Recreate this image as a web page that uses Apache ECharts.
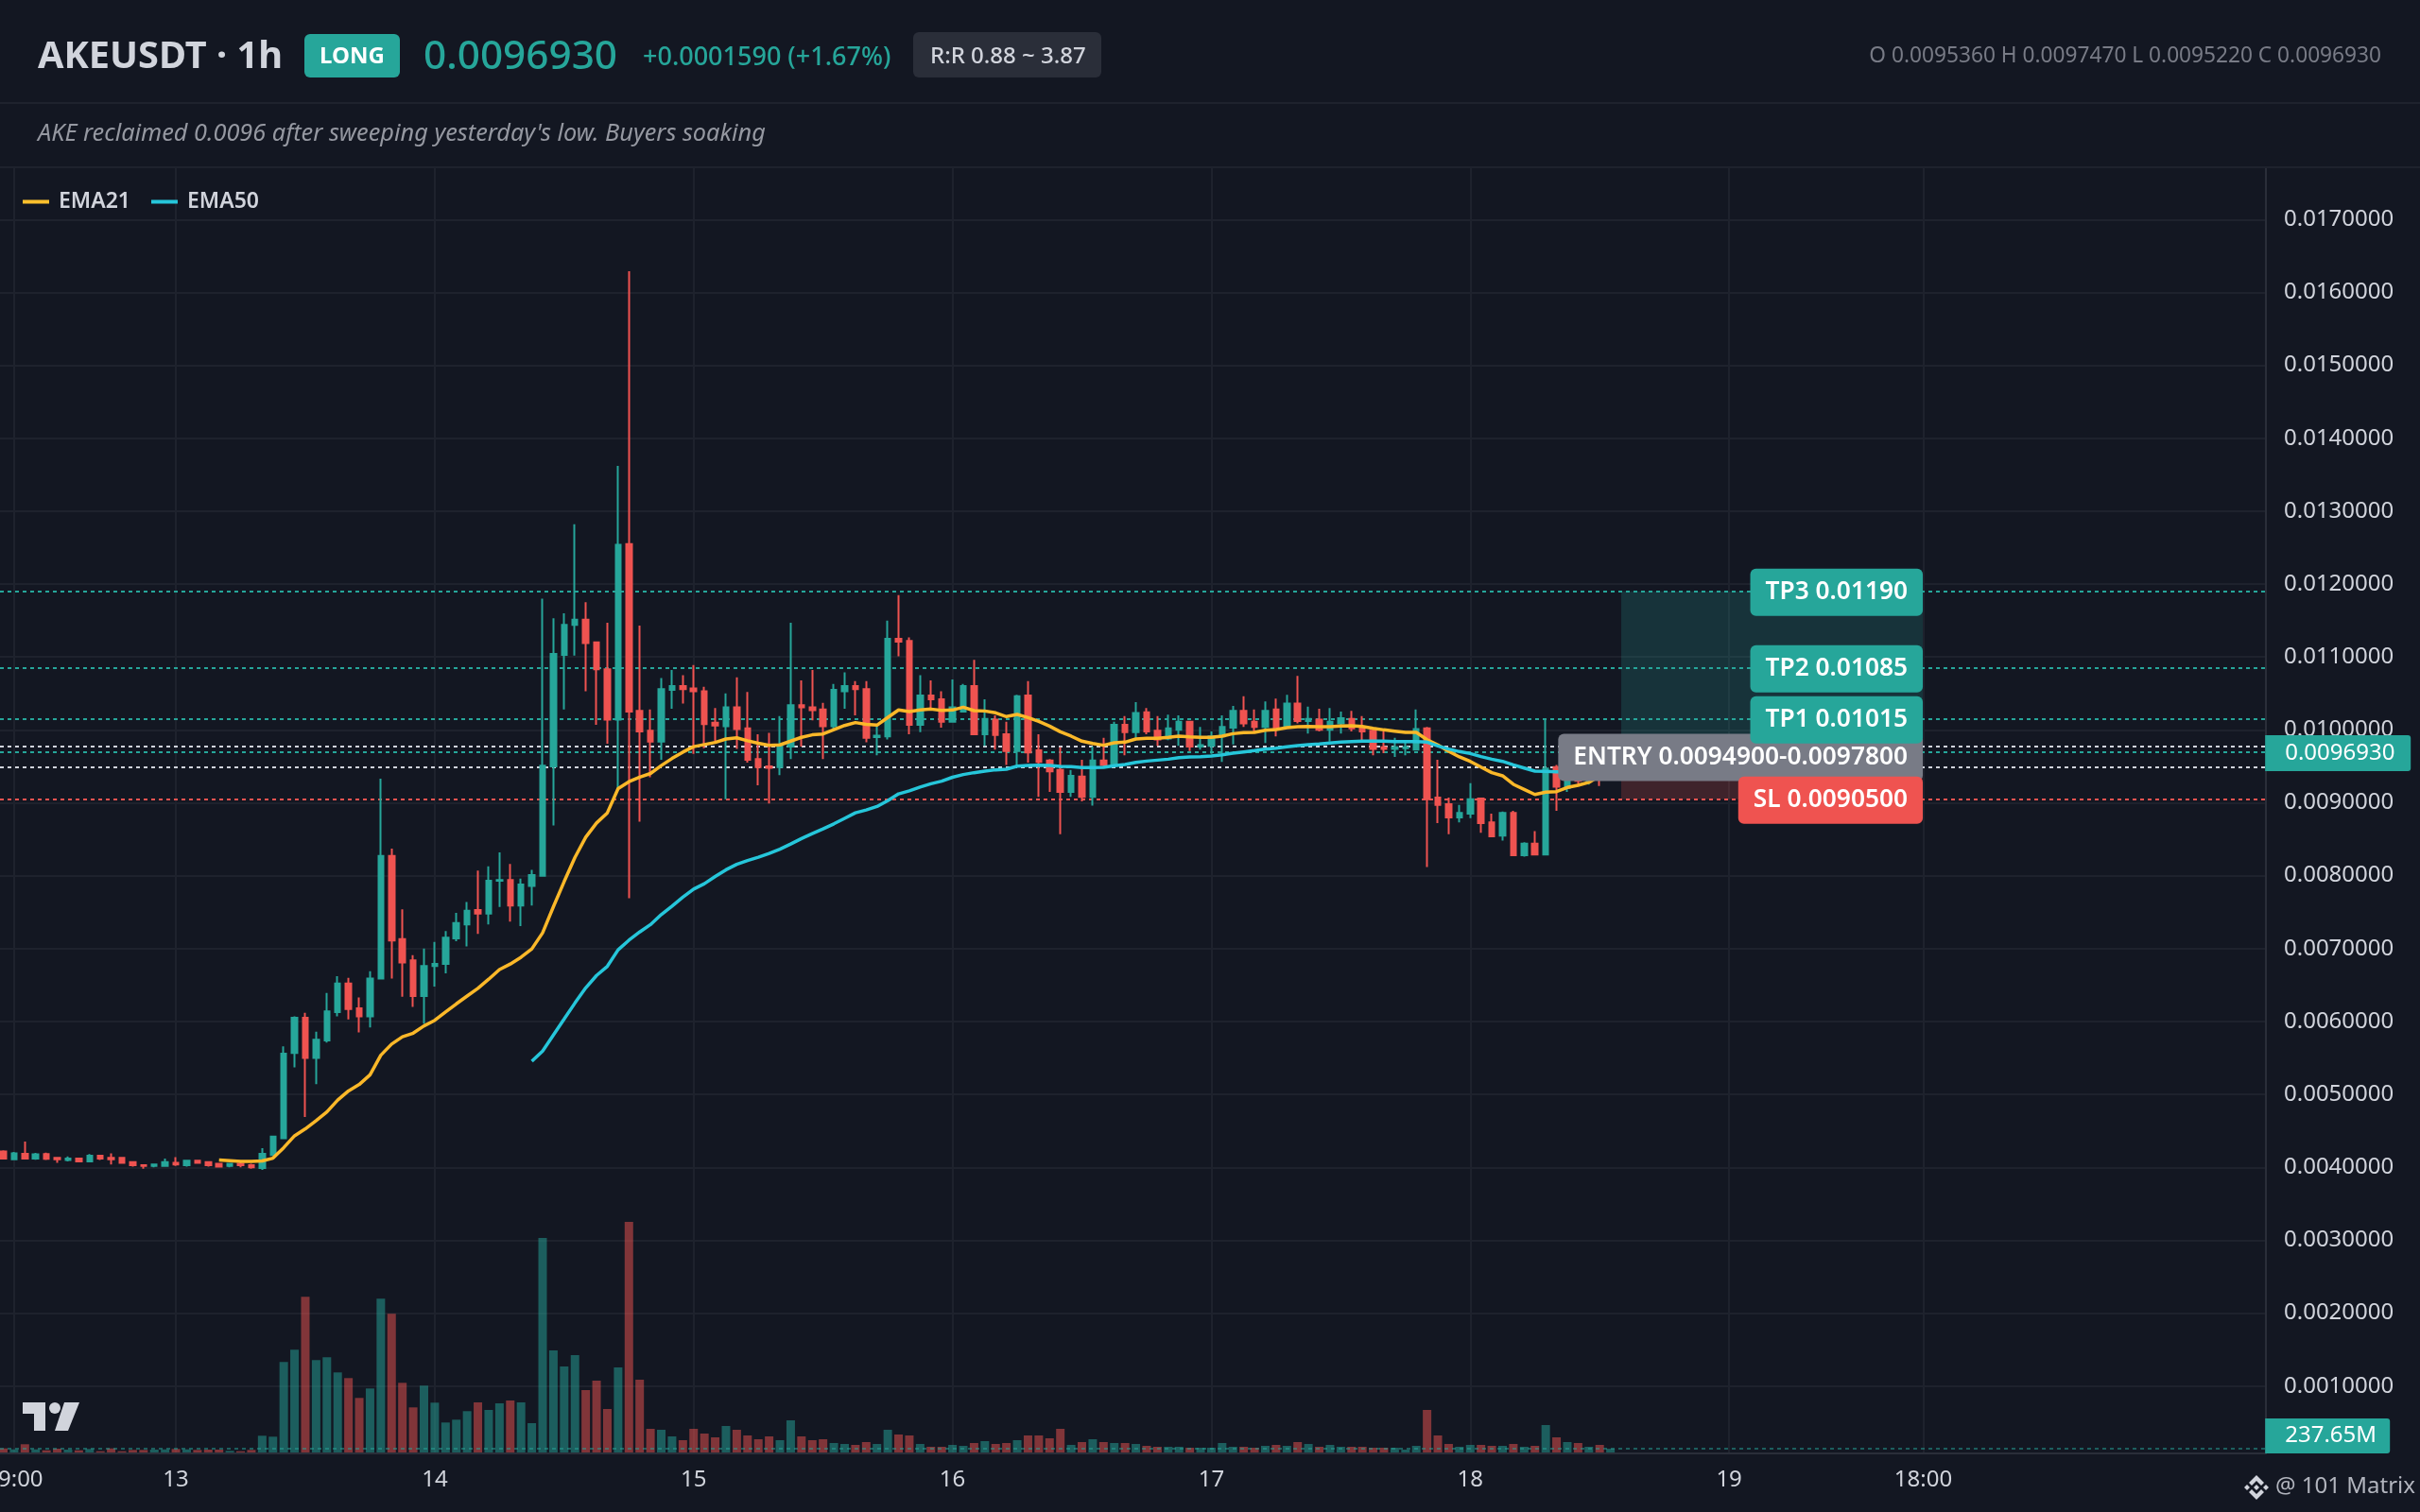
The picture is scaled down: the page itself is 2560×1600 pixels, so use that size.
<!DOCTYPE html>
<html><head><meta charset="utf-8"><title>AKEUSDT</title>
<style>html,body{margin:0;padding:0;background:#131722}#c{width:2560px;height:1600px}</style>
<script src="https://cdn.jsdelivr.net/npm/echarts@6/dist/echarts.min.js"></script></head>
<body><div id="c"></div><script>
const opens=[
.004216,.00411,.004186,.00412,.004181,.00413,.0041,.00412,.00408,.00416,
.00413,.00413,.00407,.00403,.00402,.00402,.00406,.00403,.00409,.00407,
.00405,.00402,.00405,.00403,.00399,.00417,.0044,.00557,.00605,.0055,
.00574,.00613,.00652,.00618,.00607,.00659,.00827,.00713,.00684,.00635,
.00676,.00679,.00714,.00733,.00753,.00748,.00793,.00794,.00759,.00786,
.008,.0095,.01103,.01144,.01151,.0112,.01083,.01014,.01255,.01026,
.00999,.00984,.01055,.0106,.01057,.01053,.0101,.01005,.01031,.01002,
.0096,.0095,.00949,.00977,.01034,.01031,.01028,.01005,.01053,.0106,
.01056,.0099,.00991,.01125,.01122,.01007,.01047,.01042,.01011,.01025,
.0106,.00994,.01014,.00994,.00971,.01047,.00972,.00958,.00945,.00915,
.00936,.00908,.00958,.00951,.01007,.00997,.01024,.00999,.00988,.01,
.01011,.00977,.00978,.00991,.01003,.01026,.01011,.01004,.01028,.01003,
.01036,.01012,.01014,.01,.01009,.01015,.01003,.00999,.00976,.00974,
.00975,.00973,.01002,.00907,.00898,.0088,.00885,.00906,.00873,.00855,
.00886,.00828,.00844,.00829,.00949,.0092,.00945,.0093,.00953,.009536];
const closes=[
.00412,.00419,.00412,.004177,.004117,.00411,.00412,.00408,.00416,.00412,
.00411,.00406,.00403,.00402,.00404,.00407,.00404,.00409,.00406,.00403,
.00401,.00405,.00403,.004,.004186,.00442,.00556,.00605,.0055,.00575,
.00614,.00652,.00617,.00607,.00659,.00827,.00711,.00681,.00635,.00676,
.00679,.00715,.00735,.00752,.00748,.00793,.00794,.00759,.00788,.00801,
.00951,.01104,.01144,.01151,.01119,.01083,.01014,.01254,.01025,.00998,
.00984,.01056,.0106,.01056,.01053,.01008,.01006,.01031,.01001,.00959,
.00949,.00948,.00977,.01034,.01031,.01027,.01005,.01055,.0106,.01056,
.00989,.00992,.01125,.01121,.01007,.01047,.01042,.01011,.01031,.0106,
.00994,.01015,.00993,.00971,.01046,.00969,.00956,.00943,.00915,.00937,
.00908,.00958,.00952,.01007,.00997,.01023,.00998,.00987,.01002,.01011,
.00977,.00979,.00991,.01004,.01026,.01009,.01004,.01026,.01003,.01036,
.01012,.01015,.01,.01011,.01016,.01002,.00998,.00974,.00974,.00976,
.00976,.01001,.00905,.00897,.0088,.00886,.00905,.00872,.00854,.00886,
.00828,.00844,.00829,.00947,.00922,.00945,.0093,.00945,.00938,.009693];
const lows=[
.00412,.004104,.00412,.004104,.0041,.00406,.00408,.00407,.00408,.0041,
.00404,.00405,.00401,.00398,.004,.00401,.00402,.00401,.00405,.00401,
.004,.004,.004,.00398,.003965,.00416,.00439,.00537,.00469,.00514,
.00571,.00607,.00603,.00585,.00592,.00658,.00659,.00634,.0062,.00597,
.00648,.00666,.0071,.00703,.0072,.00733,.00757,.00737,.00731,.00759,
.008,.00869,.01028,.01102,.01053,.01007,.00981,.00919,.00769,.00874,
.00935,.00959,.01029,.01036,.00967,.00975,.00983,.00905,.00974,.00955,
.00924,.00899,.00938,.0096,.00977,.01013,.0096,.01,.01029,.0102,
.00983,.00965,.00987,.01101,.00994,.00997,.0103,.01003,.0101,.01025,
.00993,.00978,.00973,.00952,.0095,.00955,.00908,.00915,.00857,.00908,
.00902,.00896,.00949,.0095,.00965,.00989,.00994,.00978,.00986,.00978,
.00971,.00973,.00967,.00956,.0098,.01004,.00998,.00982,.00991,.01003,
.01009,.00995,.00998,.00984,.00995,.00998,.00986,.00965,.00968,.00963,
.00965,.00972,.00812,.00872,.00857,.00873,.00879,.00859,.00853,.00848,
.00828,.00826,.00828,.00828,.00889,.00915,.00925,.00925,.00923,.009522];
const highs=[
.004233,.004212,.004354,.004199,.0042,.00413,.00415,.00413,.00418,.00416,
.00419,.00413,.00408,.00404,.00405,.00412,.00414,.0041,.0041,.00408,
.00406,.00406,.00408,.00405,.004264,.00442,.00566,.00607,.00612,.00586,
.00639,.00662,.0066,.00633,.00669,.00933,.00837,.00754,.00691,.007,
.00709,.00724,.00749,.00764,.00807,.00813,.00832,.00816,.00796,.00808,
.0118,.01153,.0116,.01282,.01175,.0112,.01147,.01362,.01629,.01143,
.01028,.01071,.01082,.01075,.01089,.01059,.0103,.0105,.01072,.01052,
.00994,.00996,.01019,.01147,.01068,.01082,.01037,.01063,.01079,.01067,
.01067,.01006,.0115,.01185,.01127,.01075,.01068,.01053,.01069,.01063,
.01096,.01042,.0102,.01011,.01048,.01067,.00994,.0096,.00976,.00945,
.00959,.00977,.00989,.01011,.01019,.01038,.0103,.01019,.01021,.0102,
.01012,.01004,.00998,.0102,.01033,.01046,.01028,.01039,.01043,.01048,
.01074,.01032,.01029,.0103,.01025,.01026,.01019,.01003,.00998,.00989,
.00986,.01028,.01004,.00959,.00907,.00897,.00927,.00907,.00885,.00888,
.00889,.00846,.00861,.01015,.00952,.00955,.00994,.0096,.0097,.009747];
const volumes=[
258,198,522,198,138,240,180,138,222,78,
258,78,162,162,180,198,222,198,162,180,
180,102,78,162,1062,1002,5742,6522,9882,5862,
6042,5082,4722,3462,4062,9762,8802,4422,2862,4242,
3162,1902,2082,2622,3180,2700,3120,3300,3180,1860,
13620,6480,5460,6180,3960,4560,2760,5400,14640,4620,
1500,1440,1020,780,1500,1200,960,1680,1440,1080,
840,1020,780,2040,1020,780,840,600,540,480,
660,540,1440,1140,1080,540,360,360,480,420,
600,720,540,600,780,1080,1080,900,1500,480,
660,840,660,600,600,540,420,360,360,360,
300,300,300,600,360,360,300,420,480,420,
660,540,360,480,360,360,360,300,300,300,
180,420,2700,1080,540,360,480,480,420,420,
540,360,420,1740,960,660,600,360,480,237.65];
const ema21Start=20;
const ema21=[
.0041,.00409,.00408,.00408,.004087,.004125,.00427,.004432,.004527,.00464,
.00476,.004922,.005048,.005136,.005268,.005538,.00569,.00579,.00584,.00594,
.006016,.00613,.006242,.006349,.006455,.00658,.006713,.006788,.006882,.006996,
.007216,.007574,.00792,.008252,.008529,.008723,.008862,.009195,.009289,.009352,
.009402,.00951,.009608,.009695,.00977,.009799,.009828,.009875,.009892,.009851,
.009817,.009788,.009794,.009846,.009898,.009932,.009944,.010002,.01006,.0101,
.010077,.010065,.01017,.010274,.010251,.010274,.010285,.010268,.010272,.010311,
.010264,.010259,.010234,.010182,.010212,.010169,.010117,.010052,.009974,.009914,
.009845,.009814,.009789,.009823,.009832,.009875,.009884,.009884,.009897,.009914,
.009905,.009897,.009897,.009914,.009948,.009961,.009966,.009996,.010005,.01003,
.010043,.010048,.010043,.010043,.010052,.010056,.010048,.010022,.01,.009983,
.009966,.009966,.009866,.009793,.009706,.009629,.009568,.00949,.009413,.00937,
.009253,.009184,.009114,.009145,.009153,.00921,.00924,.00928,.00937,.00938];
const ema50Start=49;
const ema50=[
.005456,
.005595,.005815,.006034,.006254,.006462,.006631,.006757,.006983,.007115,.007228,
.007329,.007467,.007583,.007705,.007815,.00789,.007988,.008081,.008156,.008208,
.008254,.008306,.008364,.008434,.008509,.008578,.008642,.008711,.008787,.008862,
.008902,.008949,.00903,.009122,.009163,.009215,.009261,.009296,.00935,.009387,
.009413,.009434,.009452,.00946,.009503,.009512,.009516,.009512,.009499,.009495,
.009482,.009482,.009486,.009508,.009525,.009555,.009572,.009585,.009598,.00962,
.009629,.009633,.009642,.009659,.00968,.009698,.009715,.009737,.00975,.009767,
.009784,.009797,.009806,.009819,.009832,.00984,.009845,.009845,.009845,.00984,
.00984,.00984,.009832,.00978,.009737,.009702,.009676,.009633,.009598,.009568,
.00952,.009477,.009434,.00943,.009426,.00942,.00942,.00942,.00942,.00943];
const xTickHours=[1,16,40,64,88,112,136,160,178];
const xTickLabels=["09:00","13","14","15","16","17","18","19","18:00"];
const yTicks=[.001,.002,.003,.004,.005,.006,.007,.008,.009,.01,.011,.012,.013,.014,.015,.016,.017];
const tp1=.01015,tp2=.01085,tp3=.0119,sl=.00905,entryLow=.00949,entryHigh=.00978,lastPrice=.009693,lastVolume=237.65;
const zoneMid=.00963,zoneStart=150,zoneEnd=177.96;
const titleText="AKEUSDT · 1h",sideText="LONG",priceText="0.0096930",changeText="+0.0001590 (+1.67%)",rrText="R:R 0.88 ~ 3.87",ohlcText="O 0.0095360 H 0.0097470 L 0.0095220 C 0.0096930",noteText="AKE reclaimed 0.0096 after sweeping yesterday's low. Buyers soaking",markText="@ 101 Matrix";

const FF='"Noto Sans","Open Sans",sans-serif';
const UP='#26a69a',DN='#ef5350',GRID='#1e222d',BORDER='#2a2e39',TXT='#d1d4dc',BG='#131722';
const XMIN=-0.3067,XMAX=209.77;
const candleData=opens.map((o,i)=>[i,o,closes[i],lows[i],highs[i]]);
const volData=volumes.map((v,i)=>({value:[i,v],itemStyle:{color:closes[i]>=opens[i]?'rgba(38,166,154,0.5)':'rgba(239,83,80,0.5)'}}));
const ema21Data=ema21.map((v,i)=>[i+ema21Start,v]);
const ema50Data=ema50.map((v,i)=>[i+ema50Start,v]);
const hline=(v,c)=>({yAxis:v,lineStyle:{color:c}});
const badge=(x,v,text,bg)=>({coord:[x,v],label:{formatter:text,backgroundColor:bg,offset:[0,1]}});
const T=(text,x,y,size,fill,extra)=>({type:'text',silent:true,z:50,style:Object.assign({text,x,y,fill,fontSize:size,fontFamily:FF,textVerticalAlign:'middle'},extra||{})});
const R=(x,y,w,h,fill,r)=>({type:'rect',silent:true,z:49,shape:{x,y,width:w,height:h,r:r||0},style:{fill}});
const P=(points,fill)=>({type:'polygon',silent:true,z:49,shape:{points},style:{fill}});

const chart=echarts.init(document.getElementById('c'),null,{renderer:'canvas'});
chart.setOption({
 animation:false,backgroundColor:BG,
 textStyle:{fontFamily:FF},
 legend:{left:19,top:197,icon:'rect',itemWidth:28,itemHeight:4,itemGap:22,selectedMode:false,
   data:['EMA21','EMA50'],textStyle:{color:TXT,fontSize:23,fontWeight:600,fontFamily:FF,padding:[0,0,0,5]}},
 grid:[{left:0,top:178,width:2397,height:1360,outerBoundsMode:'none',containLabel:false},
       {left:0,top:1137,width:2397,height:400,outerBoundsMode:'none',containLabel:false}],
 xAxis:[
  {type:'value',gridIndex:0,min:XMIN,max:XMAX,
   axisLine:{show:true,onZero:false,lineStyle:{color:BORDER,width:2}},
   axisTick:{show:false,customValues:xTickHours},
   splitLine:{show:true,lineStyle:{color:GRID,width:2}},
   axisLabel:{show:true,customValues:xTickHours,hideOverlap:false,showMinLabel:true,showMaxLabel:true,
     color:TXT,fontSize:24,fontFamily:FF,margin:16,formatter:v=>xTickLabels[xTickHours.indexOf(v)]}},
  {type:'value',gridIndex:1,min:XMIN,max:XMAX,show:false,splitLine:{show:false}}
 ],
 yAxis:[
  {type:'value',gridIndex:0,position:'right',min:.0000758,max:.017704,
   axisLine:{show:true,onZero:false,lineStyle:{color:BORDER,width:2}},
   axisTick:{show:false,customValues:yTicks},
   splitLine:{show:true,lineStyle:{color:GRID,width:2}},
   axisLabel:{show:true,customValues:yTicks,hideOverlap:false,color:TXT,fontSize:24,fontFamily:FF,margin:19,padding:[5,0,0,0],formatter:v=>v.toFixed(7)}},
  {type:'value',gridIndex:1,min:0,max:24000,show:false,splitLine:{show:false}}
 ],
 series:[
  {type:'line',name:'levels',xAxisIndex:0,yAxisIndex:0,data:[],z:1,silent:true,
   markLine:{silent:true,symbol:'none',animation:false,precision:7,z:1,label:{show:false},lineStyle:{type:[4,4],width:2},
     data:[hline(tp3,UP),hline(tp2,UP),hline(tp1,UP),hline(entryHigh,TXT),hline(lastPrice,UP),hline(entryLow,TXT),hline(sl,DN)]},
   markArea:{silent:true,animation:false,z:1,label:{show:false},data:[
     [{xAxis:zoneStart,yAxis:tp3,itemStyle:{color:'rgba(38,166,154,0.2)'}},{xAxis:zoneEnd,yAxis:zoneMid}],
     [{xAxis:zoneStart,yAxis:zoneMid,itemStyle:{color:'rgba(239,83,80,0.2)'}},{xAxis:zoneEnd,yAxis:sl}]]}},
  {type:'bar',name:'Volume',xAxisIndex:1,yAxisIndex:1,data:volData,barWidth:9,z:2,silent:true,
   markLine:{silent:true,symbol:'none',animation:false,precision:2,label:{show:false},
     lineStyle:{type:[4,4],width:2,color:'rgba(38,166,154,0.5)'},data:[{yAxis:lastVolume}]},
   markPoint:{silent:true,animation:false,symbol:'circle',symbolSize:0,data:[
     {coord:[209.7,lastVolume],label:{show:true,position:'right',distance:0,offset:[0,-13.5],formatter:'237.65M',color:'#fff',fontSize:24,fontFamily:FF,
       backgroundColor:UP,borderRadius:[0,3,3,0],width:111,height:37,lineHeight:37,padding:[0,0,0,21],align:'left'}}]}},
  {type:'candlestick',name:'AKEUSDT',xAxisIndex:0,yAxisIndex:0,data:candleData,barWidth:6,z:3,silent:true,
   itemStyle:{color:UP,color0:DN,borderColor:UP,borderColor0:DN,borderColorDoji:UP,borderWidth:2}},
  {type:'line',name:'EMA21',xAxisIndex:0,yAxisIndex:0,data:ema21Data,showSymbol:false,symbol:'none',z:4,silent:true,
   lineStyle:{color:'#fbb829',width:3.5},itemStyle:{color:'#fbc02d'}},
  {type:'line',name:'EMA50',xAxisIndex:0,yAxisIndex:0,data:ema50Data,showSymbol:false,symbol:'none',z:4,silent:true,
   lineStyle:{color:'#26c6da',width:3.5},itemStyle:{color:'#26c6da'}},
  {type:'line',name:'tags',xAxisIndex:0,yAxisIndex:0,data:[],z:8,silent:true,
   markPoint:{silent:true,animation:false,symbol:'circle',symbolSize:0,
     label:{show:true,position:'left',distance:0,color:'#fff',fontSize:26.3,fontWeight:600,fontFamily:FF,borderRadius:6,padding:[3,16,0,16],lineHeight:47,height:47},
     data:[
      badge(zoneEnd,(entryLow+entryHigh)/2,"ENTRY 0.0094900-0.0097800",'#787b86'),
      badge(zoneEnd,sl,"SL 0.0090500",DN),
      badge(zoneEnd,tp1,"TP1 0.01015",UP),
      badge(zoneEnd,tp2,"TP2 0.01085",UP),
      badge(zoneEnd,tp3,"TP3 0.01190",UP),
      {coord:[209.7,lastPrice],label:{position:'right',distance:0,offset:[0,1],formatter:priceText,fontSize:24,fontWeight:400,backgroundColor:UP,
        borderRadius:[0,3,3,0],width:133,height:38,lineHeight:38,padding:[0,0,0,21],align:'left'}}
     ]}}
 ],
 graphic:[
  R(0,108,2560,2,GRID),R(0,176,2560,2,GRID),
  T(titleText,40,61,39.7,TXT,{fontWeight:700}),
  R(322,36,101,46,UP,6),
  T(sideText,372.5,60,24,'#fff',{fontWeight:700,textAlign:'center'}),
  T(priceText,448,61,42.3,UP,{fontWeight:500}),
  T(changeText,680,61,27,UP,{fontWeight:500}),
  R(966,34,199,48,BORDER,6),
  T(rrText,984,60,24,TXT,{fontWeight:500}),
  T(ohlcText,2519,60,22.7,'#787b86',{textAlign:'right'}),
  T(noteText,40,142,25.3,'#9598a1',{fontStyle:'italic'}),
  R(24,1484,24,12,TXT),R(36,1484,12,30,TXT),
  {type:'circle',silent:true,z:49,shape:{cx:58,cy:1490,r:6},style:{fill:TXT}},
  P([[68,1484],[84,1484],[72,1514],[58,1514]],TXT),
  P([[2387,1561],[2395,1569],[2392,1572],[2387,1567],[2382,1572],[2379,1569]],TXT),
  P([[2387,1587],[2395,1579],[2392,1576],[2387,1581],[2382,1576],[2379,1579]],TXT),
  P([[2377,1571],[2380,1574],[2377,1577],[2374,1574]],TXT),
  P([[2397,1571],[2400,1574],[2397,1577],[2394,1574]],TXT),
  P([[2387,1571],[2390,1574],[2387,1577],[2384,1574]],TXT),
  T(markText,2407,1573,24,'#b2b5be')
 ]
});
</script></body></html>
